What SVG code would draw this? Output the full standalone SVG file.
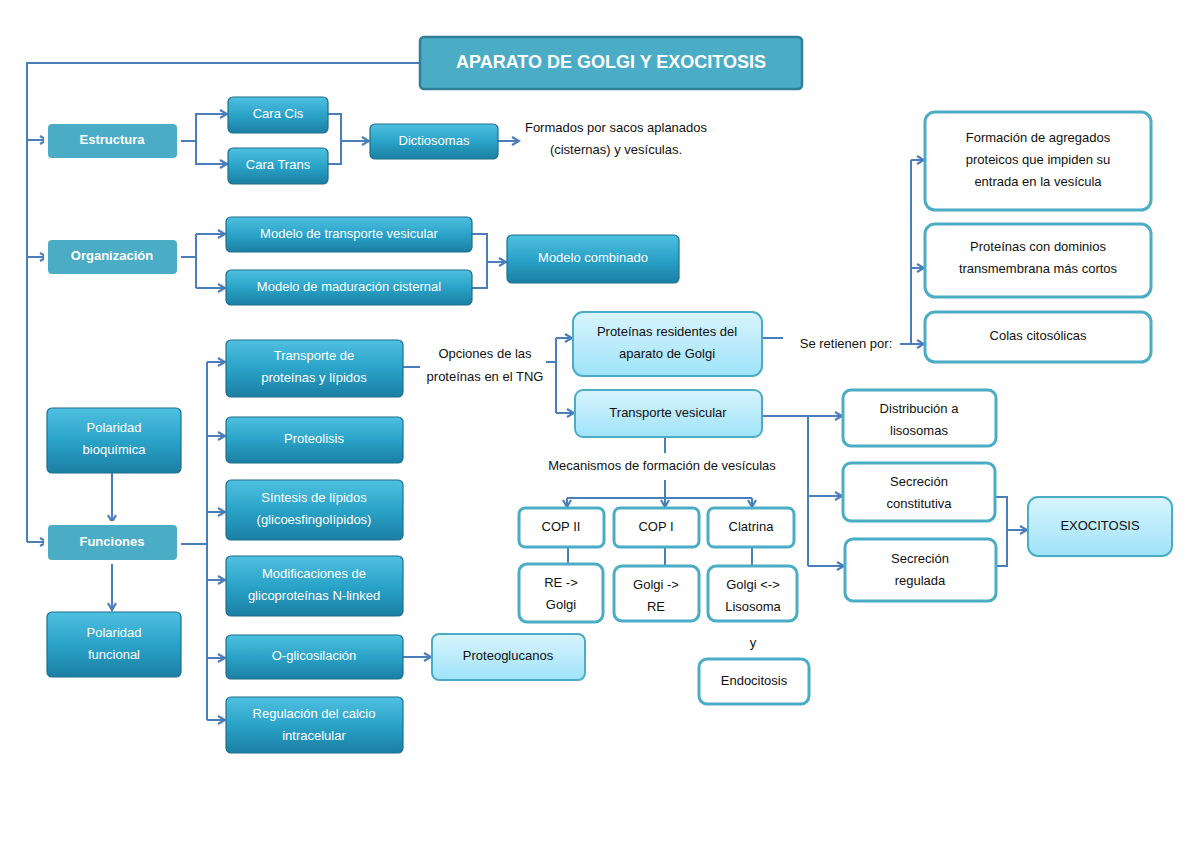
<svg xmlns="http://www.w3.org/2000/svg" width="1200" height="849" viewBox="0 0 1200 849">
<defs>
<linearGradient id="dk" x1="0" y1="0" x2="0" y2="1"><stop offset="0" stop-color="#4fc0e0"/><stop offset="0.5" stop-color="#2aa3c8"/><stop offset="1" stop-color="#1b7fa3"/></linearGradient>
<linearGradient id="lt" x1="0" y1="0" x2="0" y2="1"><stop offset="0" stop-color="#d8f4fd"/><stop offset="1" stop-color="#9fe3fa"/></linearGradient>
<marker id="a" markerWidth="10" markerHeight="10" refX="8" refY="5" orient="auto" markerUnits="userSpaceOnUse"><path d="M1,1 L8,5 L1,9" fill="none" stroke="#4a7ebb" stroke-width="2.2"/></marker>
</defs>
<style>
text{font-family:"Liberation Sans",Arial,sans-serif;font-size:13px;text-anchor:middle;dominant-baseline:middle}
.w{fill:#fff}.b{fill:#111}.tb{font-weight:bold}
.dk{fill:url(#dk);stroke:#1d6f8c;stroke-width:1.2}
.md{fill:#4bacc6;stroke:#fff;stroke-width:4}
.lt{fill:url(#lt);stroke:#4bacc6;stroke-width:2}
.wb{fill:#fff;stroke:#4bacc6;stroke-width:3}
.c path,.c line,.c polyline{fill:none;stroke:#4a7ebb;stroke-width:2}
</style>
<rect width="1200" height="849" fill="#fff"/>
<g class="c">
<polyline points="420,63 27,63 27,542"/>
<line x1="27" y1="140" x2="47" y2="140" marker-end="url(#a)"/>
<line x1="27" y1="257" x2="47" y2="257" marker-end="url(#a)"/>
<line x1="27" y1="542" x2="47" y2="542" marker-end="url(#a)"/>
<polyline points="177,141 196,141"/>
<polyline points="228,114 196,114 196,164 228,164"/>
<line x1="196" y1="114" x2="227" y2="114" marker-end="url(#a)"/>
<line x1="196" y1="164" x2="227" y2="164" marker-end="url(#a)"/>
<polyline points="328,114 341,114 341,164 328,164"/>
<line x1="341" y1="141" x2="369" y2="141" marker-end="url(#a)"/>
<line x1="498" y1="141" x2="519" y2="141" marker-end="url(#a)"/>
<polyline points="177,257 196,257"/>
<polyline points="196,234 196,288"/>
<line x1="196" y1="234" x2="225" y2="234" marker-end="url(#a)"/>
<line x1="196" y1="288" x2="225" y2="288" marker-end="url(#a)"/>
<polyline points="472,234 487,234 487,288 472,288"/>
<line x1="487" y1="262" x2="506" y2="262" marker-end="url(#a)"/>
<line x1="112" y1="473" x2="112" y2="522" marker-end="url(#a)"/>
<line x1="112" y1="561" x2="112" y2="610" marker-end="url(#a)"/>
<polyline points="177,544 207,544"/>
<polyline points="207,362 207,720"/>
<line x1="207" y1="362" x2="225" y2="362" marker-end="url(#a)"/>
<line x1="207" y1="436" x2="225" y2="436" marker-end="url(#a)"/>
<line x1="207" y1="512" x2="225" y2="512" marker-end="url(#a)"/>
<line x1="207" y1="580" x2="225" y2="580" marker-end="url(#a)"/>
<line x1="207" y1="658" x2="225" y2="658" marker-end="url(#a)"/>
<line x1="207" y1="720" x2="225" y2="720" marker-end="url(#a)"/>
<line x1="403" y1="657" x2="431" y2="657" marker-end="url(#a)"/>
<line x1="403" y1="367" x2="420" y2="367"/>
<line x1="546" y1="362" x2="556" y2="362"/>
<polyline points="556,338 556,413"/>
<line x1="556" y1="338" x2="572" y2="338" marker-end="url(#a)"/>
<line x1="556" y1="413" x2="574" y2="413" marker-end="url(#a)"/>
<line x1="762" y1="338" x2="783" y2="338"/>
<line x1="900" y1="344" x2="924" y2="344" marker-end="url(#a)"/>
<polyline points="911,160 911,344"/>
<line x1="911" y1="160" x2="924" y2="160" marker-end="url(#a)"/>
<line x1="911" y1="268" x2="924" y2="268" marker-end="url(#a)"/>
<line x1="762" y1="416" x2="842" y2="416" marker-end="url(#a)"/>
<polyline points="808,416 808,566"/>
<line x1="808" y1="496" x2="842" y2="496" marker-end="url(#a)"/>
<line x1="808" y1="566" x2="844" y2="566" marker-end="url(#a)"/>
<polyline points="995,497 1007,497 1007,566 996,566"/>
<line x1="1007" y1="530" x2="1027" y2="530" marker-end="url(#a)"/>
<line x1="665" y1="437" x2="665" y2="453"/>
<line x1="665" y1="480" x2="665" y2="507" marker-end="url(#a)"/>
<polyline points="567,498 752,498"/>
<line x1="567" y1="498" x2="567" y2="507" marker-end="url(#a)"/>
<line x1="752" y1="498" x2="752" y2="507" marker-end="url(#a)"/>
<line x1="568" y1="547" x2="568" y2="566"/>
<line x1="665" y1="547" x2="665" y2="566"/>
<line x1="752" y1="547" x2="752" y2="566"/>
</g>
<g id="title"><rect x="420" y="37" width="382" height="52" rx="4" fill="#4bacc6" stroke="#2e7f98" stroke-width="2.5"/><text x="611" y="63" class="w tb" style="font-size:18px">APARATO DE GOLGI Y EXOCITOSIS</text></g>
<g id="estructura"><rect x="46" y="122" width="133" height="38" rx="6" class="md"/><text x="112" y="141" class="w tb">Estructura</text></g>
<g id="caracis"><rect x="228" y="97" width="100" height="36" rx="5" class="dk"/><text x="278" y="115" class="w">Cara Cis</text></g>
<g id="caratrans"><rect x="228" y="148" width="100" height="36" rx="5" class="dk"/><text x="278" y="166" class="w">Cara Trans</text></g>
<g id="dictiosomas"><rect x="370" y="124" width="128" height="35" rx="5" class="dk"/><text x="434" y="142" class="w">Dictiosomas</text></g>
<g id="formados"><text x="616" y="129" class="b">Formados por sacos aplanados</text><text x="616" y="151" class="b">(cisternas) y vesículas.</text></g>
<g id="organizacion"><rect x="46" y="238" width="133" height="38" rx="6" class="md"/><text x="112" y="257" class="w tb">Organización</text></g>
<g id="mtv"><rect x="226" y="217" width="246" height="35" rx="5" class="dk"/><text x="349" y="235" class="w">Modelo de transporte vesicular</text></g>
<g id="mmc"><rect x="226" y="270" width="246" height="35" rx="5" class="dk"/><text x="349" y="288" class="w">Modelo de maduración cisternal</text></g>
<g id="mcomb"><rect x="507" y="235" width="172" height="48" rx="5" class="dk"/><text x="593" y="259" class="w">Modelo combinado</text></g>
<g id="polbio"><rect x="47" y="408" width="134" height="65" rx="5" class="dk"/><text x="114" y="429" class="w">Polaridad</text><text x="114" y="451" class="w">bioquímica</text></g>
<g id="funciones"><rect x="46" y="523" width="133" height="39" rx="6" class="md"/><text x="112" y="543" class="w tb">Funciones</text></g>
<g id="polfun"><rect x="47" y="612" width="134" height="65" rx="5" class="dk"/><text x="114" y="634" class="w">Polaridad</text><text x="114" y="656" class="w">funcional</text></g>
<g id="transp"><rect x="226" y="340" width="177" height="57" rx="5" class="dk"/><text x="314" y="357" class="w">Transporte de</text><text x="314" y="379" class="w">proteínas y lípidos</text></g>
<g id="proteolisis"><rect x="226" y="417" width="177" height="46" rx="5" class="dk"/><text x="314" y="440" class="w">Proteolisis</text></g>
<g id="sintesis"><rect x="226" y="480" width="177" height="60" rx="5" class="dk"/><text x="314" y="499" class="w">Síntesis de lípidos</text><text x="314" y="521" class="w">(glicoesfingolípidos)</text></g>
<g id="modif"><rect x="226" y="556" width="177" height="60" rx="5" class="dk"/><text x="314" y="575" class="w">Modificaciones de</text><text x="314" y="597" class="w">glicoproteínas N-linked</text></g>
<g id="oglico"><rect x="226" y="635" width="177" height="44" rx="5" class="dk"/><text x="314" y="657" class="w">O-glicosilación</text></g>
<g id="regul"><rect x="226" y="697" width="177" height="56" rx="5" class="dk"/><text x="314" y="715" class="w">Regulación del calcio</text><text x="314" y="737" class="w">intracelular</text></g>
<g id="proteogl"><rect x="432" y="634" width="153" height="46" rx="7" class="lt"/><text x="508" y="657" class="b">Proteoglucanos</text></g>
<g id="opciones"><text x="485" y="355" class="b">Opciones de las</text><text x="485" y="378" class="b">proteínas en el TNG</text></g>
<g id="protres"><rect x="573" y="312" width="189" height="64" rx="10" class="lt"/><text x="667" y="333" class="b">Proteínas residentes del</text><text x="667" y="355" class="b">aparato de Golgi</text></g>
<g id="tvesic"><rect x="575" y="390" width="187" height="47" rx="8" class="lt"/><text x="668" y="414" class="b">Transporte vesicular</text></g>
<g id="seret"><text x="846" y="345" class="b">Se retienen por:</text></g>
<g id="formacion"><rect x="925" y="112" width="226" height="98" rx="10" class="wb"/><text x="1038" y="139" class="b">Formación de agregados</text><text x="1038" y="161" class="b">proteicos que impiden su</text><text x="1038" y="183" class="b">entrada en la vesícula</text></g>
<g id="dominios"><rect x="925" y="224" width="226" height="73" rx="10" class="wb"/><text x="1038" y="248" class="b">Proteínas con dominios</text><text x="1038" y="270" class="b">transmembrana más cortos</text></g>
<g id="colas"><rect x="925" y="312" width="226" height="50" rx="10" class="wb"/><text x="1038" y="337" class="b">Colas citosólicas</text></g>
<g id="distrib"><rect x="843" y="390" width="153" height="56" rx="8" class="wb"/><text x="919" y="410" class="b">Distribución a</text><text x="919" y="432" class="b">lisosomas</text></g>
<g id="secconst"><rect x="843" y="463" width="152" height="58" rx="8" class="wb"/><text x="919" y="483" class="b">Secreción</text><text x="919" y="505" class="b">constitutiva</text></g>
<g id="secreg"><rect x="845" y="539" width="151" height="62" rx="8" class="wb"/><text x="920" y="560" class="b">Secreción</text><text x="920" y="582" class="b">regulada</text></g>
<g id="exocitosis"><rect x="1028" y="497" width="144" height="59" rx="10" class="lt"/><text x="1100" y="527" class="b">EXOCITOSIS</text></g>
<g id="mecanismos"><text x="662" y="467" class="b">Mecanismos de formación de vesículas</text></g>
<g id="cop2"><rect x="519" y="508" width="85" height="39" rx="6" class="wb"/><text x="561" y="528" class="b">COP II</text></g>
<g id="cop1"><rect x="614" y="508" width="85" height="39" rx="6" class="wb"/><text x="656" y="528" class="b">COP I</text></g>
<g id="clatrina"><rect x="708" y="508" width="86" height="39" rx="6" class="wb"/><text x="751" y="528" class="b">Clatrina</text></g>
<g id="regolgi"><rect x="519" y="564" width="84" height="58" rx="8" class="wb"/><text x="561" y="584" class="b">RE -&gt;</text><text x="561" y="606" class="b">Golgi</text></g>
<g id="golgire"><rect x="614" y="566" width="85" height="55" rx="8" class="wb"/><text x="656" y="586" class="b">Golgi -&gt;</text><text x="656" y="608" class="b">RE</text></g>
<g id="golgilis"><rect x="708" y="566" width="89" height="55" rx="8" class="wb"/><text x="753" y="586" class="b">Golgi &lt;-&gt;</text><text x="753" y="608" class="b">Lisosoma</text></g>
<g id="y"><text x="753" y="644" class="b">y</text></g>
<g id="endocitosis"><rect x="699" y="659" width="110" height="45" rx="8" class="wb"/><text x="754" y="682" class="b">Endocitosis</text></g>
</svg>
